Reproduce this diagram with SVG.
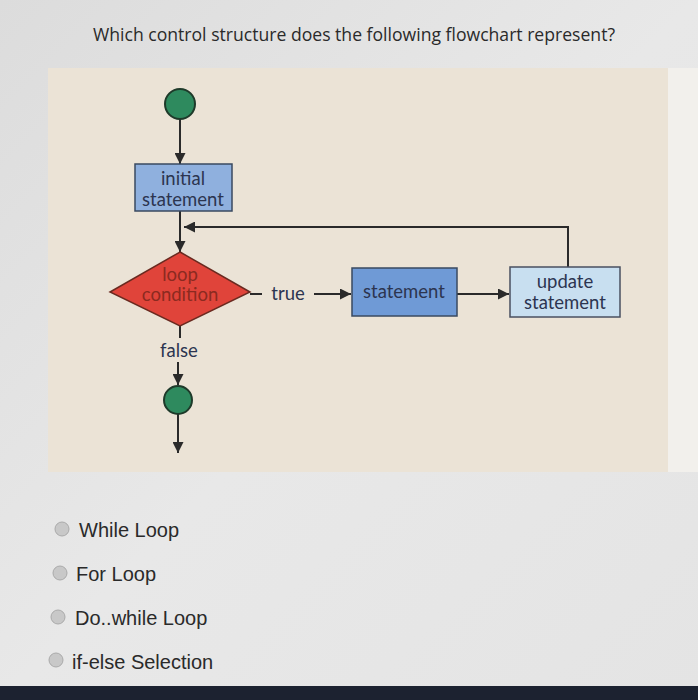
<svg xmlns="http://www.w3.org/2000/svg" width="698" height="700" viewBox="0 0 698 700">
<defs>
<marker id="ah" viewBox="0 0 10 10" refX="10" refY="5" markerWidth="11" markerHeight="11" markerUnits="userSpaceOnUse" orient="auto"><path d="M0,0 L10,5 L0,10 z" fill="#2a2a2a"/></marker>
<linearGradient id="bg" x1="0" y1="0" x2="1" y2="1"><stop offset="0" stop-color="#dcdcdc"/><stop offset="0.5" stop-color="#e8e8e8"/><stop offset="1" stop-color="#e4e4e4"/></linearGradient>
</defs>
<style>
.ft{font-family:Lato,"Open Sans",sans-serif;font-size:18.5px;text-anchor:middle;fill:#2c3550}
.q{font-family:"Open Sans","Noto Sans",sans-serif;font-size:17.5px;fill:#2a2a2a}
.opt{font-family:"Liberation Sans",Arial,sans-serif;font-size:20px;fill:#2a2a2a}
.ln{stroke:#2a2a2a;stroke-width:2;fill:none}
.radio{fill:#c8c8c8;stroke:#aaaaaa;stroke-width:1}
</style>
<rect width="698" height="700" fill="url(#bg)"/>
<rect x="48" y="68" width="620" height="404" fill="#ebe3d6"/>
<rect x="668" y="68" width="30" height="404" fill="#f2f0ec"/>
<rect x="0" y="686" width="698" height="14" fill="#1c2230"/>
<text class="q" x="93" y="41" textLength="522" lengthAdjust="spacingAndGlyphs">Which control structure does the following flowchart represent?</text>

<g id="connectors">
<line class="ln" x1="180" y1="119" x2="180" y2="164" marker-end="url(#ah)"/>
<line class="ln" x1="180" y1="211" x2="180" y2="252" marker-end="url(#ah)"/>
<polyline class="ln" points="568,268 568,227 184,227" marker-end="url(#ah)"/>
<line class="ln" x1="250" y1="294" x2="262" y2="294"/>
<line class="ln" x1="314" y1="294" x2="351" y2="294" marker-end="url(#ah)"/>
<line class="ln" x1="457" y1="294" x2="509" y2="294" marker-end="url(#ah)"/>
<line class="ln" x1="180" y1="326" x2="180" y2="338"/>
<line class="ln" x1="178" y1="362" x2="178" y2="385" marker-end="url(#ah)"/>
<line class="ln" x1="178" y1="414" x2="178" y2="453" marker-end="url(#ah)"/>
<text class="ft" x="288" y="300">true</text>
<text class="ft" x="179" y="357">false</text>
</g>

<g id="start"><circle cx="180" cy="104" r="15" fill="#2e8a5e" stroke="#1e3a2a" stroke-width="2"/></g>
<g id="initial">
<rect x="135" y="164" width="97" height="47" fill="#8fb0de" stroke="#3a4a60" stroke-width="1.5"/>
<text class="ft" x="183" y="185">initial</text>
<text class="ft" x="183" y="206">statement</text>
</g>
<g id="condition">
<polygon points="180,252 250,292 180,326 110,292" fill="#e0443a" stroke="#6a2a20" stroke-width="1.5"/>
<text class="ft" x="180" y="281" style="fill:#8b2a20">loop</text>
<text class="ft" x="180" y="301" style="fill:#8b2a20">condition</text>
</g>
<g id="statement">
<rect x="352" y="268" width="105" height="48" fill="#6f9ad6" stroke="#3a4a60" stroke-width="1.5"/>
<text class="ft" x="404" y="298">statement</text>
</g>
<g id="update">
<rect x="510" y="267" width="110" height="50" fill="#c8dff0" stroke="#4a5060" stroke-width="1.5"/>
<text class="ft" x="565" y="288">update</text>
<text class="ft" x="565" y="309">statement</text>
</g>
<g id="end"><circle cx="178" cy="400" r="14" fill="#2e8a5e" stroke="#1e3a2a" stroke-width="2"/></g>

<g id="options">
<circle class="radio" cx="62" cy="529" r="7"/>
<text class="opt" x="79" y="537">While Loop</text>
<circle class="radio" cx="60" cy="573" r="7"/>
<text class="opt" x="76" y="581">For Loop</text>
<circle class="radio" cx="58" cy="617" r="7"/>
<text class="opt" x="75" y="625">Do..while Loop</text>
<circle class="radio" cx="56" cy="660" r="7"/>
<text class="opt" x="72" y="669">if-else Selection</text>
</g>
</svg>
